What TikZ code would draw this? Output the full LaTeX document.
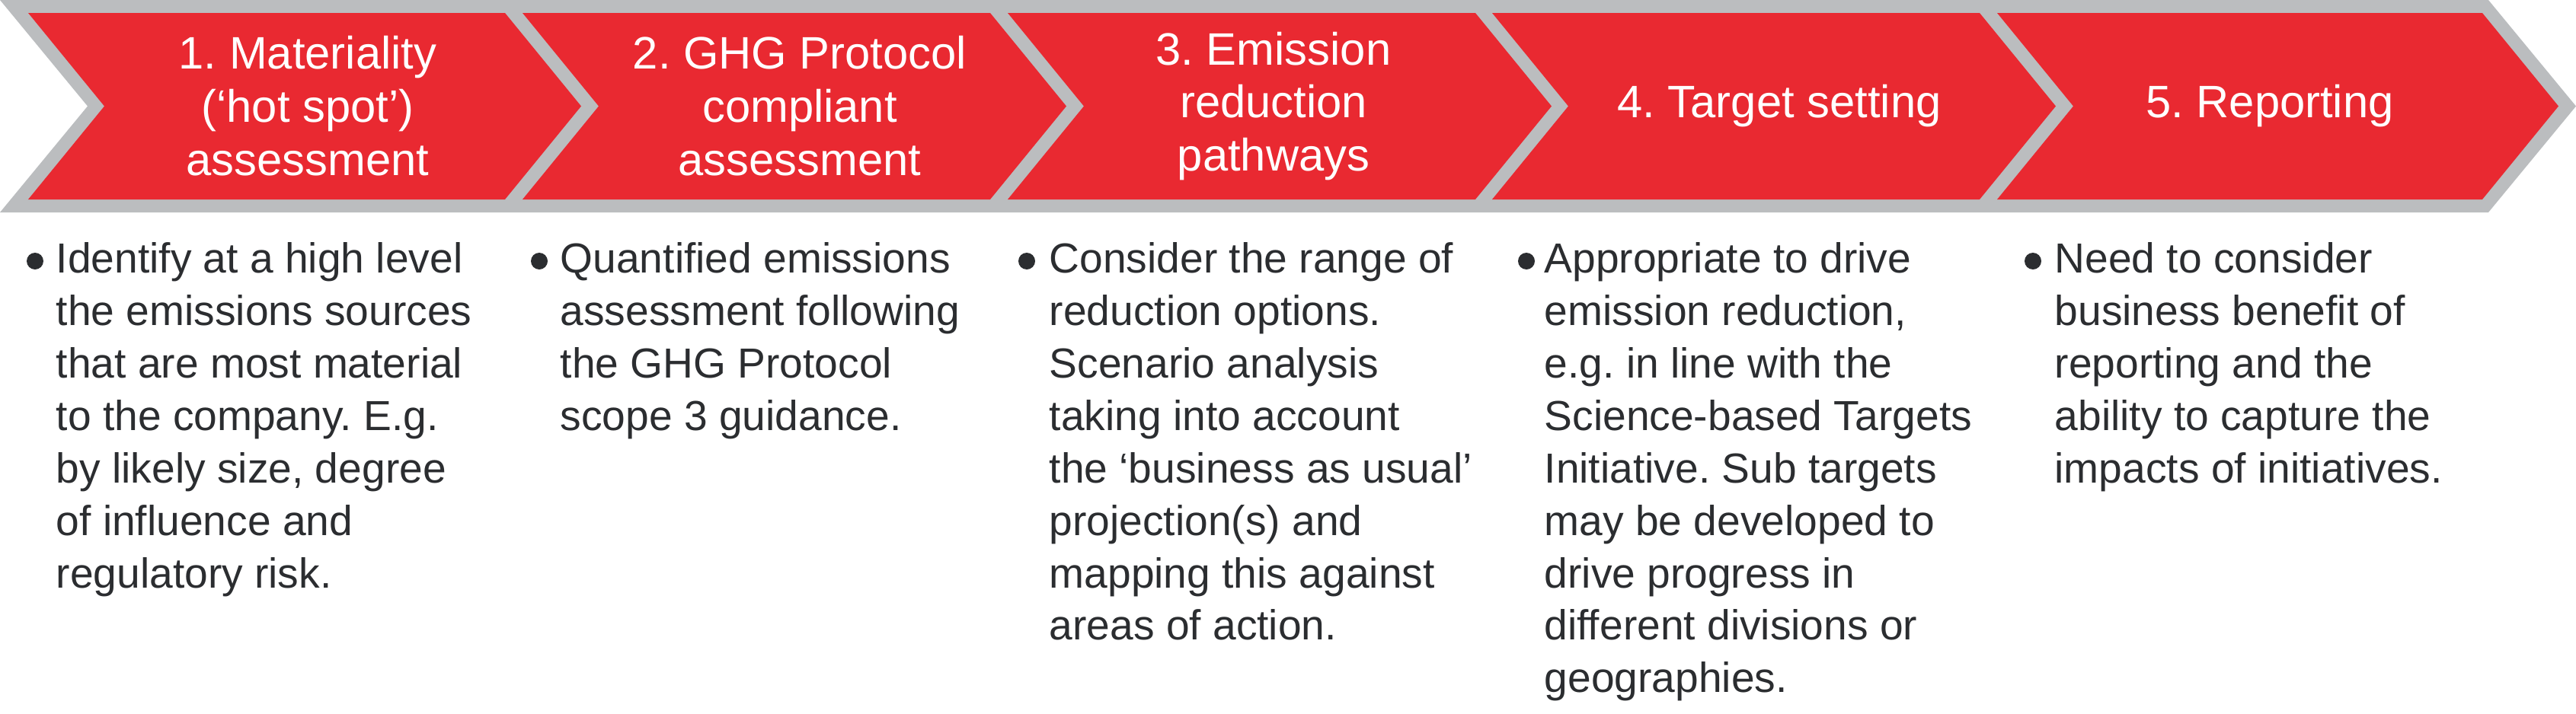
\documentclass[tikz,border=0pt]{standalone}
\usepackage{fontspec}
\setmainfont{Liberation Sans}
\usetikzlibrary{positioning}
\frenchspacing

\definecolor{chevred}{RGB}{233,41,49}
\definecolor{bandgrey}{RGB}{187,189,191}
\definecolor{bodygrey}{RGB}{43,45,48}

\begin{document}
\begin{tikzpicture}
		[head/.style={text=white,align=center,inner sep=0pt,font=\fontsize{17}{19.9}\selectfont},
		body/.style={text=bodygrey,align=left,anchor=north west,inner sep=0pt,font=\fontsize{15.7}{19.6}\selectfont},
		dot/.style={circle,fill=bodygrey,draw=none,inner sep=0pt,minimum size=0.22cm}]
		\def \tp {9.20}
		\def \bt {6.75}
		\def \md {7.975}
		\def \by {6.272}
		\useasboundingbox (0,0) rectangle (33.82,9.37);
		
		% grey band behind the steps
		\fill[bandgrey] (0,9.37) -- (32.67,9.37) -- (33.82,\md) -- (32.67,6.58) -- (0,6.58) -- (1.15,\md) -- cycle;
		
		% red chevrons
		\fill[chevred] (0.37,\tp) -- (6.63,\tp) -- (7.63,\md) -- (6.63,\bt) -- (0.37,\bt) -- (1.37,\md) -- cycle;
		\fill[chevred] (6.86,\tp) -- (13.00,\tp) -- (14.00,\md) -- (13.00,\bt) -- (6.86,\bt) -- (7.86,\md) -- cycle;
		\fill[chevred] (13.23,\tp) -- (19.37,\tp) -- (20.37,\md) -- (19.37,\bt) -- (13.23,\bt) -- (14.23,\md) -- cycle;
		\fill[chevred] (19.59,\tp) -- (25.99,\tp) -- (26.99,\md) -- (25.99,\bt) -- (19.59,\bt) -- (20.59,\md) -- cycle;
		\fill[chevred] (26.22,\tp) -- (32.59,\tp) -- (33.59,\md) -- (32.59,\bt) -- (26.22,\bt) -- (27.22,\md) -- cycle;
		
		\node[head] (h1) at (4.04,\md) {1. Materiality\\(‘hot spot’)\\assessment};
		\node[head] (h2) at (10.50,\md) {2. GHG Protocol\\compliant\\assessment};
		\node[head] (h3) at (16.72,\md) {3. Emission\\reduction\\pathways};
		\node[head] (h4) at (23.36,\md) {4. Target setting};
		\node[head] (h5) at (29.80,\md) {5. Reporting};
		
		% text blocks, first line carries a strut so that the tops line up
		\node[body] (t1) at (0.73,\by) {\strut Identify at a high level\\the emissions sources\\that are most material\\to the company. E.g.\\by likely size, degree\\of influence and\\regulatory risk.};
		\node[body] (t2) at (7.35,\by) {\strut Quantified emissions\\assessment following\\the GHG Protocol\\scope 3 guidance.};
		\node[body] (t3) at (13.77,\by) {\strut Consider the range of\\reduction options.\\Scenario analysis\\taking into account\\the ‘business as usual’\\projection(s) and\\mapping this against\\areas of action.};
		\node[body] (t4) at (20.27,\by) {\strut Appropriate to drive\\emission reduction,\\e.g. in line with the\\Science-based Targets\\Initiative. Sub targets\\may be developed to\\drive progress in\\different divisions or\\geographies.};
		\node[body] (t5) at (26.97,\by) {\strut Need to consider\\business benefit of\\reporting and the\\ability to capture the\\impacts of initiatives.};
		
		\node[dot] (d1) at ([xshift=-0.27cm,yshift=-0.332cm]t1.north west) {};
		\node[dot] (d2) at ([xshift=-0.27cm,yshift=-0.332cm]t2.north west) {};
		\node[dot] (d3) at ([xshift=-0.29cm,yshift=-0.332cm]t3.north west) {};
		\node[dot] (d4) at ([xshift=-0.23cm,yshift=-0.332cm]t4.north west) {};
		\node[dot] (d5) at ([xshift=-0.28cm,yshift=-0.332cm]t5.north west) {};
		\end{tikzpicture}
\end{document}
